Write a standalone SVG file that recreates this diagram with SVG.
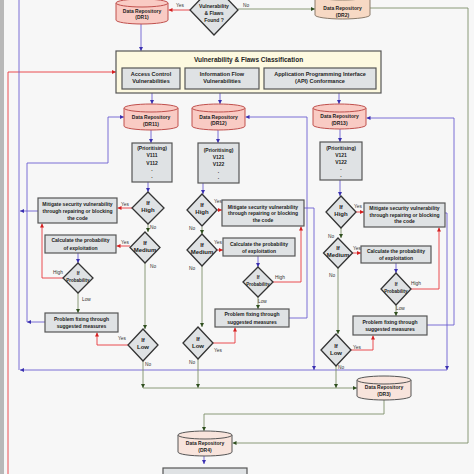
<svg xmlns="http://www.w3.org/2000/svg" width="474" height="474" viewBox="0 0 474 474">
<defs>
<style>
.bx{fill:#dfe2e4;stroke:#555;stroke-width:1.2}
.dm{fill:#dfe2e4;stroke:#333;stroke-width:1.3}
.cy{fill:#f9cbc4;stroke:#c0504d;stroke-width:1}
.cy2{fill:#f7d9c4;stroke:#8a7a6a;stroke-width:1}
.cy3{fill:#f8e4dc;stroke:#555;stroke-width:1}
.t{font-family:'Liberation Sans',Arial,sans-serif;font-weight:bold;font-size:5px;text-anchor:middle;fill:#222}
.d{font-size:6px}
.s{font-size:4.5px}
.h{font-size:6.5px}
.m{font-size:5.5px}
.lb{font-family:'Liberation Sans',Arial,sans-serif;font-size:4.8px;fill:#333}
.r{stroke:#e8383d;fill:none;stroke-width:0.9;marker-end:url(#ar)}
.p{stroke:#6b5fd0;fill:none;stroke-width:0.9;marker-end:url(#ap)}
.g{stroke:#7d8f6a;fill:none;stroke-width:0.9;marker-end:url(#ag)}
.pn{stroke:#6b5fd0;fill:none;stroke-width:0.9}
.gn{stroke:#7d8f6a;fill:none;stroke-width:0.9}
.rn{stroke:#e8383d;fill:none;stroke-width:0.9}
</style>
<marker id="ar" viewBox="0 0 6 6" refX="6" refY="3" markerWidth="4" markerHeight="4" markerUnits="userSpaceOnUse" orient="auto"><path d="M0,0L6,3L0,6z" fill="#d42020"/></marker>
<marker id="ap" viewBox="0 0 6 6" refX="6" refY="3" markerWidth="4" markerHeight="4" markerUnits="userSpaceOnUse" orient="auto"><path d="M0,0L6,3L0,6z" fill="#3a30b0"/></marker>
<marker id="ag" viewBox="0 0 6 6" refX="6" refY="3" markerWidth="4" markerHeight="4" markerUnits="userSpaceOnUse" orient="auto"><path d="M0,0L6,3L0,6z" fill="#2f4f1f"/></marker>
</defs>
<rect x="0" y="0" width="474" height="474" fill="#f7f7f7"/>
<rect x="0" y="0" width="4" height="474" fill="#b8b8b8"/>

<g id="connectors">
<!-- top -->
<path class="r" d="M190,10H168.5"/>
<path class="g" d="M238,9H315"/>
<path class="gn" d="M370,8H468V443"/>
<path class="g" d="M468,443H232.5"/>
<path class="p" d="M141,24V51"/>
<path class="p" d="M152,89V104"/>
<path class="p" d="M220,89V104"/>
<path class="p" d="M339,89V104"/>
<path class="rn" d="M8,474V72"/>
<path class="r" d="M8,72H116"/>
<path class="pn" d="M19,370V0"/>
<path class="p" d="M447,370H20"/>
<!-- col1 -->
<path class="p" d="M151,130V143"/>
<path class="p" d="M148,182V192"/>
<path class="r" d="M132,208H117.5"/>
<path class="p" d="M38,211H20"/>
<path class="g" d="M148,224V232"/>
<path class="r" d="M130,246H116.5"/>
<path class="p" d="M78,253V263"/>
<path class="r" d="M63,278H42V223.5"/>
<path class="g" d="M78,293V313"/>
<path class="p" d="M45,322H27"/>
<path class="p" d="M27,322V163H108V117H124"/>
<path class="g" d="M145,263V329"/>
<path class="r" d="M128,345H97V332.5"/>
<path class="g" d="M143,361V388"/>
<!-- col2 -->
<path class="p" d="M218,130V143"/>
<path class="p" d="M203,183V194"/>
<path class="r" d="M217,210H222"/>
<path class="pn" d="M304,208H314"/>
<path class="p" d="M314,208V370"/>
<path class="g" d="M202,227V234"/>
<path class="r" d="M217,250H223"/>
<path class="p" d="M258,256V267"/>
<path class="r" d="M273,282H301V226.5"/>
<path class="g" d="M258,297V309"/>
<path class="p" d="M289,318H307V117H245.5"/>
<path class="g" d="M202,266V327"/>
<path class="r" d="M213,343H235V327.5"/>
<path class="g" d="M198,359V388"/>
<!-- col3 -->
<path class="p" d="M340,129V142"/>
<path class="p" d="M340,180V196"/>
<path class="r" d="M356,212H364"/>
<path class="pn" d="M445,213H447"/>
<path class="p" d="M447,213V370"/>
<path class="g" d="M341,228V238"/>
<path class="r" d="M352,253H361"/>
<path class="p" d="M396,263V273"/>
<path class="r" d="M411,289H439V227.5"/>
<path class="g" d="M396,304V316"/>
<path class="p" d="M427,325H454V118H366.5"/>
<path class="g" d="M338,268V334"/>
<path class="r" d="M351,350H373V335.5"/>
<path class="g" d="M336,366V388"/>
<!-- bottom -->
<path class="g" d="M143,388H357"/>
<path class="gn" d="M384,400V414"/>
<path class="g" d="M384,414H204V431"/>
<path class="p" d="M204,456V464"/>
</g>

<g id="labels">
<text class="lb" x="176" y="7">Yes</text>
<text class="lb" x="243" y="7">No</text>
<text class="lb" x="121" y="206">Yes</text>
<text class="lb" x="150" y="229">No</text>
<text class="lb" x="121" y="244">Yes</text>
<text class="lb" x="53" y="274">High</text>
<text class="lb" x="82" y="301">Low</text>
<text class="lb" x="150" y="268">No</text>
<text class="lb" x="118" y="340">Yes</text>
<text class="lb" x="145" y="366">No</text>
<text class="lb" x="214" y="203">Yes</text>
<text class="lb" x="189" y="230">No</text>
<text class="lb" x="214" y="244">Yes</text>
<text class="lb" x="275" y="279">High</text>
<text class="lb" x="258" y="303">Low</text>
<text class="lb" x="189" y="270">No</text>
<text class="lb" x="214" y="352">Yes</text>
<text class="lb" x="189" y="364">No</text>
<text class="lb" x="354" y="208">Yes</text>
<text class="lb" x="328" y="238">No</text>
<text class="lb" x="353" y="250">Yes</text>
<text class="lb" x="411" y="285">High</text>
<text class="lb" x="396" y="310">Low</text>
<text class="lb" x="329" y="277">No</text>
<text class="lb" x="353" y="349">Yes</text>
<text class="lb" x="338" y="369">No</text>
</g>

<g id="found">
<path class="dm" d="M214,-15L238,10L214,35L190,10Z"/>
<text class="t" x="214" y="7.5">Vulnerability</text>
<text class="t" x="214" y="14.5">&amp; Flaws</text>
<text class="t" x="214" y="21.5">Found ?</text>
</g>
<g id="dr1">
<path class="cy" d="M116,3V20A26,4 0 0 0 168,20V3"/>
<ellipse class="cy" cx="142" cy="3" rx="26" ry="4"/>
<text class="t" x="142" y="13">Data Repository</text>
<text class="t" x="142" y="19">(DR1)</text>
</g>
<g id="dr2">
<path class="cy2" d="M315,-4V15A27.5,4 0 0 0 370,15V-4"/>
<ellipse class="cy2" cx="342.5" cy="-4" rx="27.5" ry="4"/>
<text class="t" x="342.5" y="10">Data Repository</text>
<text class="t" x="342.5" y="16.5">(DR2)</text>
</g>
<g id="classification">
<rect x="116" y="51" width="265" height="42" fill="#fdf9e0" stroke="#555" stroke-width="1.2"/>
<text class="t h" x="248.5" y="61.5">Vulnerability &amp; Flaws Classification</text>
</g>
<g id="access">
<rect class="bx" x="122" y="68" width="58" height="21"/>
<text class="t m" x="151" y="76">Access Control</text>
<text class="t m" x="151" y="83">Vulnerabilities</text>
</g>
<g id="infoflow">
<rect class="bx" x="185" y="68" width="74" height="21"/>
<text class="t m" x="222" y="76">Information Flow</text>
<text class="t m" x="222" y="83">Vulnerabilities</text>
</g>
<g id="api">
<rect class="bx" x="264" y="68" width="112" height="21"/>
<text class="t m" x="320" y="76">Application Programming Interface</text>
<text class="t m" x="320" y="83">(API) Conformance</text>
</g>

<g id="dr11">
<path class="cy" d="M124,108V126A27,4 0 0 0 178,126V108"/>
<ellipse class="cy" cx="151" cy="108" rx="27" ry="4"/>
<text class="t" x="151" y="119">Data Repository</text>
<text class="t" x="151" y="126">(DR11)</text>
</g>
<g id="dr12">
<path class="cy" d="M192,108V126A26.5,4 0 0 0 245,126V108"/>
<ellipse class="cy" cx="218.5" cy="108" rx="26.5" ry="4"/>
<text class="t" x="218.5" y="118.5">Data Repository</text>
<text class="t" x="218.5" y="125">(DR12)</text>
</g>
<g id="dr13">
<path class="cy" d="M313,108V125A26.5,4 0 0 0 366,125V108"/>
<ellipse class="cy" cx="339.5" cy="108" rx="26.5" ry="4"/>
<text class="t" x="339.5" y="118">Data Repository</text>
<text class="t" x="339.5" y="124.5">(DR13)</text>
</g>

<g id="prio1">
<rect class="bx" x="132" y="143" width="40" height="39"/>
<text class="t" x="152" y="150">(Prioritising)</text>
<text class="t" x="152" y="157">V111</text>
<text class="t" x="152" y="164.5">V112</text>
<text class="t" x="152" y="171">.</text>
<text class="t" x="152" y="177.5">.</text>
</g>
<g id="prio2">
<rect class="bx" x="198" y="143" width="41" height="40"/>
<text class="t" x="218.5" y="151.5">(Prioritising)</text>
<text class="t" x="218.5" y="158.5">V121</text>
<text class="t" x="218.5" y="166">V122</text>
<text class="t" x="218.5" y="172.5">.</text>
<text class="t" x="218.5" y="179">.</text>
</g>
<g id="prio3">
<rect class="bx" x="320" y="142" width="42" height="38"/>
<text class="t" x="341" y="149.5">(Prioritising)</text>
<text class="t" x="341" y="156.5">V121</text>
<text class="t" x="341" y="163.5">V122</text>
<text class="t" x="341" y="170">.</text>
<text class="t" x="341" y="176.5">.</text>
</g>

<g id="high1"><path class="dm" d="M148,192L164,208L148,224L132,208Z"/><text class="t d" x="148" y="205">If</text><text class="t d" x="148" y="212">High</text></g>
<g id="med1"><path class="dm" d="M145,232L160,247.5L145,263L130,247.5Z"/><text class="t d" x="145" y="245">If</text><text class="t d" x="145" y="252">Medium</text></g>
<g id="prob1"><path class="dm" d="M78,263L93,278L78,293L63,278Z"/><text class="t s" x="78" y="275">If</text><text class="t s" x="78" y="282">Probability</text></g>
<g id="low1"><path class="dm" d="M143,329L158,345L143,361L128,345Z"/><text class="t d" x="143" y="342">If</text><text class="t d" x="143" y="349">Low</text></g>
<g id="mit1"><rect class="bx" x="38" y="198" width="79" height="25"/><text class="t" x="77.5" y="205.8">Mitigate security vulnerability</text><text class="t" x="77.5" y="212.8">through repairing or blocking</text><text class="t" x="77.5" y="219.8">the code</text></g>
<g id="calc1"><rect class="bx" x="45" y="235" width="71" height="18"/><text class="t" x="80.5" y="242">Calculate the probability</text><text class="t" x="80.5" y="249.5">of exploitation</text></g>
<g id="fix1"><rect class="bx" x="45" y="313" width="73" height="19"/><text class="t" x="81.5" y="320.5">Problem fixing through</text><text class="t" x="81.5" y="328">suggested measures</text></g>

<g id="high2"><path class="dm" d="M202,194L217,210L202,226L187,210Z"/><text class="t d" x="202" y="207">If</text><text class="t d" x="202" y="214">High</text></g>
<g id="med2"><path class="dm" d="M202,234L217,250L202,266L187,250Z"/><text class="t d" x="202" y="247">If</text><text class="t d" x="202" y="254">Medium</text></g>
<g id="prob2"><path class="dm" d="M258,267L273,282L258,297L243,282Z"/><text class="t s" x="258" y="279">If</text><text class="t s" x="258" y="286">Probability</text></g>
<g id="low2"><path class="dm" d="M198,327L213,343L198,359L183,343Z"/><text class="t d" x="198" y="341">If</text><text class="t d" x="198" y="348">Low</text></g>
<g id="mit2"><rect class="bx" x="222" y="200" width="82" height="26"/><text class="t" x="263" y="208.5">Mitigate security vulnerability</text><text class="t" x="263" y="215">through repairing or blocking</text><text class="t" x="263" y="221.8">the code</text></g>
<g id="calc2"><rect class="bx" x="223" y="238" width="72" height="18"/><text class="t" x="259" y="245.5">Calculate the probability</text><text class="t" x="259" y="252.8">of exploitation</text></g>
<g id="fix2"><rect class="bx" x="215" y="309" width="74" height="18"/><text class="t" x="252" y="316">Problem fixing through</text><text class="t" x="252" y="323.5">suggested measures</text></g>

<g id="high3"><path class="dm" d="M341,196L356,212L341,228L326,212Z"/><text class="t d" x="341" y="209">If</text><text class="t d" x="341" y="216">High</text></g>
<g id="med3"><path class="dm" d="M338,238L352.5,253L338,268L323.5,253Z"/><text class="t d" x="338" y="250">If</text><text class="t d" x="338" y="257">Medium</text></g>
<g id="prob3"><path class="dm" d="M396,273L411,289L396,305L381,289Z"/><text class="t s" x="396" y="286">If</text><text class="t s" x="396" y="293">Probability</text></g>
<g id="low3"><path class="dm" d="M336,334L351,350L336,366L321,350Z"/><text class="t d" x="336" y="348">If</text><text class="t d" x="336" y="355">Low</text></g>
<g id="mit3"><rect class="bx" x="364" y="203" width="81" height="24"/><text class="t" x="404.5" y="210">Mitigate security vulnerability</text><text class="t" x="404.5" y="216.5">through repairing or blocking</text><text class="t" x="404.5" y="223">the code</text></g>
<g id="calc3"><rect class="bx" x="361" y="246" width="70" height="17"/><text class="t" x="396" y="253">Calculate the probability</text><text class="t" x="396" y="260">of exploitation</text></g>
<g id="fix3"><rect class="bx" x="353" y="316" width="74" height="19"/><text class="t" x="390" y="323.5">Problem fixing through</text><text class="t" x="390" y="331">suggested measures</text></g>

<g id="dr3">
<path class="cy3" d="M357,380V396A27,4 0 0 0 411,396V380"/>
<ellipse class="cy3" cx="384" cy="380" rx="27" ry="4"/>
<text class="t" x="384" y="389">Data Repository</text>
<text class="t" x="384" y="395.5">(DR3)</text>
</g>
<g id="dr4">
<path class="cy3" d="M178,435V452A27,4 0 0 0 232,452V435"/>
<ellipse class="cy3" cx="205" cy="435" rx="27" ry="4"/>
<text class="t" x="205" y="445">Data Repository</text>
<text class="t" x="205" y="451.5">(DR4)</text>
</g>
<g id="final">
<rect class="bx" x="163" y="468" width="84" height="14"/>
</g>
</svg>
